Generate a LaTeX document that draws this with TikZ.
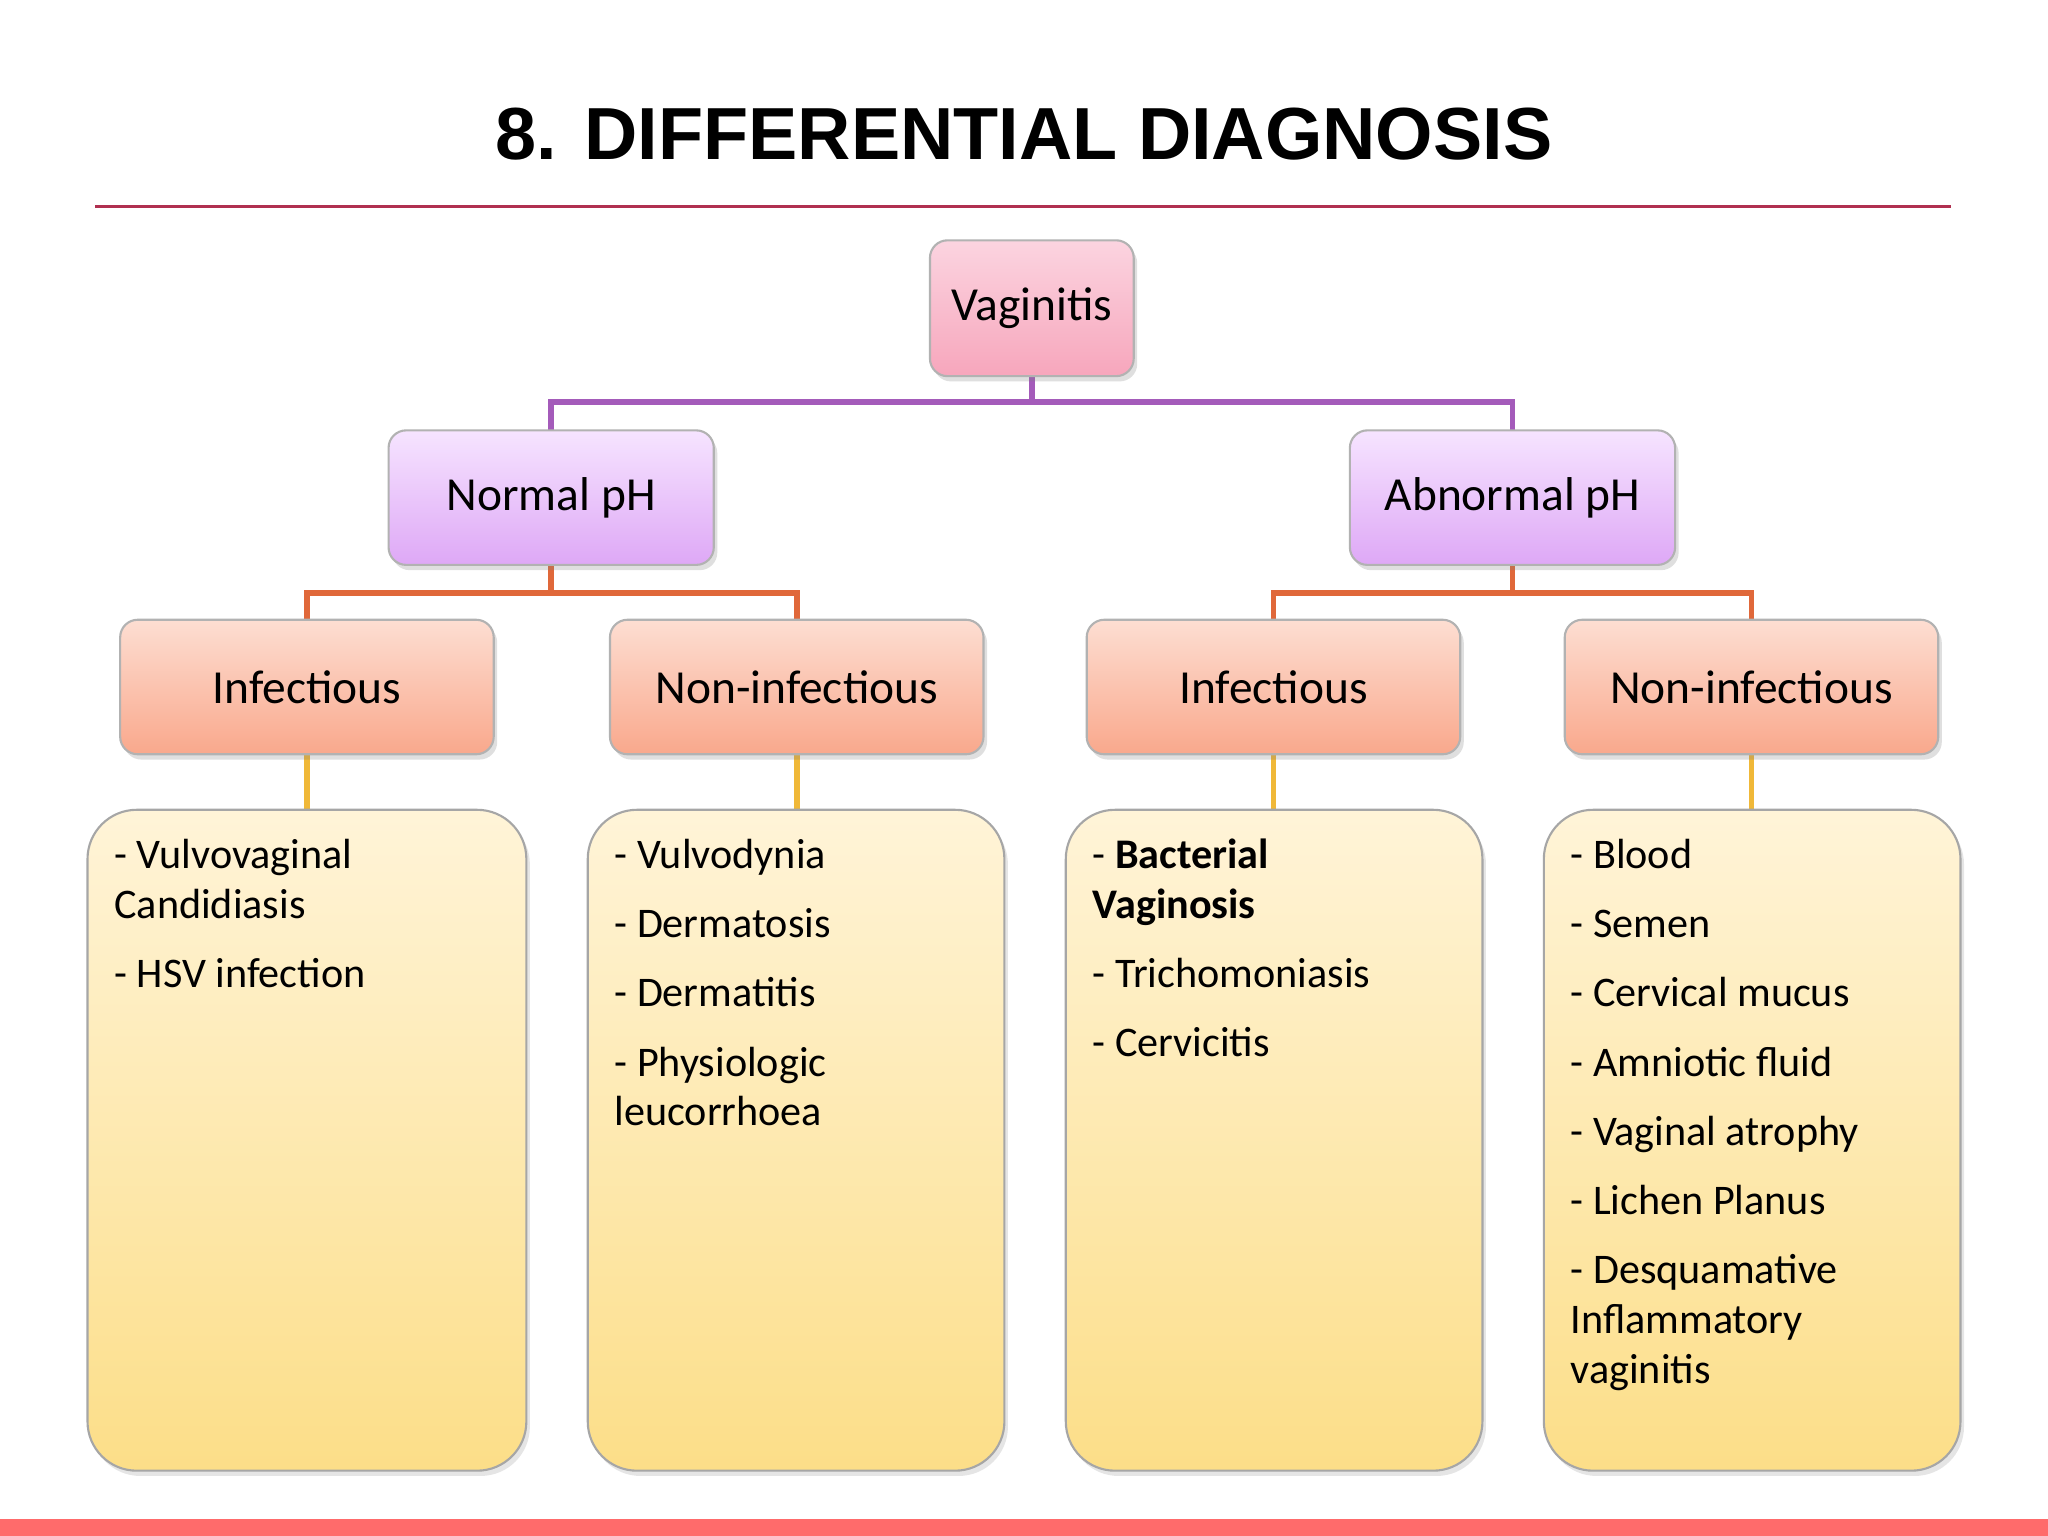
\documentclass[tikz,border=0pt]{standalone}
\usepackage{fontspec}
\setmainfont{Carlito}
\newfontfamily\titlefont{Liberation Sans}
\usetikzlibrary{shadows}
\definecolor{bgc}{HTML}{FFFFFF}
\definecolor{linered}{HTML}{B03050}
\definecolor{purp}{HTML}{A45BBA}
\definecolor{oran}{HTML}{E0683A}
\definecolor{yell}{HTML}{F0B838}
\definecolor{barc}{HTML}{FF6B6B}
\tikzset{
 x=0.013061cm, y=-0.013061cm,
 basebox/.style={draw=black!30, line width=0.6pt, rounded corners=5pt, drop shadow={shadow xshift=1pt, shadow yshift=-1.5pt, opacity=0.25}, font=\fontsize{13.5}{16}\selectfont},
 pinkbox/.style={basebox, top color=white!40!pink!80!red!30, bottom color=pink!70!red!60, top color={rgb,255:red,251;green,212;blue,224}, bottom color={rgb,255:red,247;green,166;blue,188}},
 lavbox/.style={basebox, top color={rgb,255:red,246;green,228;blue,255}, bottom color={rgb,255:red,222;green,168;blue,246}},
 peachbox/.style={basebox, top color={rgb,255:red,253;green,222;blue,210}, bottom color={rgb,255:red,249;green,168;blue,140}},
 listbox/.style={draw=black!35, line width=0.6pt, rounded corners=14pt, top color={rgb,255:red,255;green,244;blue,216}, bottom color={rgb,255:red,252;green,222;blue,136}, drop shadow={shadow xshift=1pt, shadow yshift=-1.5pt, opacity=0.2}},
 listtext/.style={anchor=north west, align=left, inner sep=0pt, font=\fontsize{12}{14.1}\selectfont},
 conn/.style={line width=1.6pt}
}
\begin{document}
\begin{tikzpicture}
\useasboundingbox (0,0) rectangle (1568,1176);
\fill[white] (0,0) rectangle (1568,1176);
\fill[barc] (0,1163) rectangle (1568,1176);
\node[font=\titlefont\bfseries\fontsize{21}{24}\selectfont] (title) at (784,103) {8. DIFFERENTIAL DIAGNOSIS};
\draw[linered, line width=0.8pt] (73,158) -- (1494,158);

\draw[conn, purp] (790,288) -- (790,308) -| (422,330);
\draw[conn, purp] (790,308) -| (1158,330);
\draw[conn, oran] (422,433) -- (422,454) -| (235,475);
\draw[conn, oran] (422,454) -| (610,475);
\draw[conn, oran] (1158,433) -- (1158,454) -| (975,475);
\draw[conn, oran] (1158,454) -| (1341,475);
\foreach \xx in {235,610,975,1341} \draw[conn, yell] (\xx,578) -- (\xx,620);

\node[pinkbox, minimum width=156*0.013061cm, minimum height=104*0.013061cm] (vag) at (790,236) {Vaginitis};
\node[lavbox, minimum width=249*0.013061cm, minimum height=103*0.013061cm] (nph) at (422,381) {Normal pH};
\node[lavbox, minimum width=249*0.013061cm, minimum height=103*0.013061cm] (aph) at (1158,381) {Abnormal pH};
\node[peachbox, minimum width=286*0.013061cm, minimum height=103*0.013061cm] (i1) at (235,526) {Infectious};
\node[peachbox, minimum width=286*0.013061cm, minimum height=103*0.013061cm] (n1) at (610,526) {Non-infectious};
\node[peachbox, minimum width=286*0.013061cm, minimum height=103*0.013061cm] (i2) at (975,526) {Infectious};
\node[peachbox, minimum width=286*0.013061cm, minimum height=103*0.013061cm] (n2) at (1341,526) {Non-infectious};

\path[listbox] (67,620) rectangle (403,1126);
\path[listbox] (450,620) rectangle (769,1126);
\path[listbox] (816,620) rectangle (1135,1126);
\path[listbox] (1182,620) rectangle (1501,1126);

\node[listtext] (t1) at (87,642) {- Vulvovaginal\\Candidiasis\\[5.6pt]- HSV infection};
\node[listtext] (t2) at (470,642) {- Vulvodynia\\[5.6pt]- Dermatosis\\[5.6pt]- Dermatitis\\[5.6pt]- Physiologic\\leucorrhoea};
\node[listtext] (t3) at (836,642) {- \textbf{Bacterial}\\\textbf{Vaginosis}\\[5.6pt]- Trichomoniasis\\[5.6pt]- Cervicitis};
\node[listtext] (t4) at (1202,642) {- Blood\\[5.6pt]- Semen\\[5.6pt]- Cervical mucus\\[5.6pt]- Amniotic fluid\\[5.6pt]- Vaginal atrophy\\[5.6pt]- Lichen Planus\\[5.6pt]- Desquamative\\Inflammatory\\vaginitis};
\end{tikzpicture}
\end{document}
